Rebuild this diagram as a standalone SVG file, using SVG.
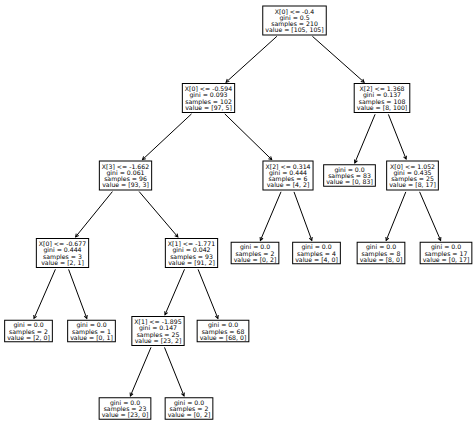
<svg xmlns="http://www.w3.org/2000/svg" width="474" height="430" viewBox="0 0 474 430">
<style>
.box{fill:#fff;stroke:#000;stroke-width:1}
text{font-family:"DejaVu Sans",sans-serif;font-size:6.2px;text-anchor:middle;dominant-baseline:central;fill:#000}
.edge{stroke:#000;stroke-width:1;fill:none;marker-end:url(#arr)}
</style>
<defs>
<marker id="arr" markerUnits="userSpaceOnUse" viewBox="-4 -3 5 6" refX="0" refY="0" markerWidth="5" markerHeight="6" orient="auto">
<path d="M-3,-1.6 L0,0 L-3,1.6" fill="none" stroke="#000" stroke-width="1"/>
</marker>
</defs>
<rect width="474" height="430" fill="#fff"/>
<g id="edges">
<line class="edge" x1="276.9" y1="36.3" x2="226.1" y2="82.2"/>
<line class="edge" x1="312.4" y1="36.3" x2="364.1" y2="82.2"/>
<line class="edge" x1="191.5" y1="113.9" x2="142.5" y2="159.6"/>
<line class="edge" x1="224.8" y1="113.9" x2="271.7" y2="159.6"/>
<line class="edge" x1="375.1" y1="114.3" x2="354.8" y2="162.9"/>
<line class="edge" x1="388.4" y1="114.4" x2="406.1" y2="159.1"/>
<line class="edge" x1="112.4" y1="191.6" x2="75.6" y2="236.9"/>
<line class="edge" x1="139.1" y1="191.5" x2="177.9" y2="237"/>
<line class="edge" x1="281" y1="191.8" x2="260.4" y2="240.4"/>
<line class="edge" x1="294" y1="191.9" x2="311.8" y2="240.4"/>
<line class="edge" x1="405.8" y1="191.9" x2="386.2" y2="240.4"/>
<line class="edge" x1="419.6" y1="191.8" x2="440.6" y2="240.4"/>
<line class="edge" x1="55.4" y1="269.3" x2="34" y2="318.4"/>
<line class="edge" x1="68.6" y1="269.4" x2="86.8" y2="318.4"/>
<line class="edge" x1="184.5" y1="269.3" x2="165" y2="314.7"/>
<line class="edge" x1="198.1" y1="269.4" x2="217.9" y2="318.4"/>
<line class="edge" x1="151" y1="347.3" x2="130.4" y2="395.9"/>
<line class="edge" x1="164.5" y1="347.4" x2="184" y2="395.9"/>
</g>
<g id="n0"><rect class="box" x="262.75" y="6" width="63.5" height="29"/>
<text x="294.5" y="11.2">X[0] &lt;= -0.4</text><text x="294.5" y="17.4">gini = 0.5</text><text x="294.5" y="23.6">samples = 210</text><text x="294.5" y="29.8">value = [105, 105]</text></g>
<g id="n1"><rect class="box" x="182.35" y="83.5" width="52.3" height="29"/>
<text x="208.5" y="88.7">X[0] &lt;= -0.594</text><text x="208.5" y="94.9">gini = 0.093</text><text x="208.5" y="101.1">samples = 102</text><text x="208.5" y="107.3">value = [97, 5]</text></g>
<g id="n2"><rect class="box" x="354.2" y="83.5" width="55.6" height="29"/>
<text x="382" y="88.7">X[2] &lt;= 1.368</text><text x="382" y="94.9">gini = 0.137</text><text x="382" y="101.1">samples = 108</text><text x="382" y="107.3">value = [8, 100]</text></g>
<g id="n3"><rect class="box" x="99.35" y="161" width="52.3" height="29"/>
<text x="125.5" y="166.2">X[3] &lt;= -1.662</text><text x="125.5" y="172.4">gini = 0.061</text><text x="125.5" y="178.6">samples = 96</text><text x="125.5" y="184.8">value = [93, 3]</text></g>
<g id="n4"><rect class="box" x="262.95" y="161" width="50.1" height="29"/>
<text x="288" y="166.2">X[2] &lt;= 0.314</text><text x="288" y="172.4">gini = 0.444</text><text x="288" y="178.6">samples = 6</text><text x="288" y="184.8">value = [4, 2]</text></g>
<g id="n5"><rect class="box" x="323.65" y="164.75" width="51.7" height="21.5"/>
<text x="349.5" y="169.3">gini = 0.0</text><text x="349.5" y="175.5">samples = 83</text><text x="349.5" y="181.7">value = [0, 83]</text></g>
<g id="n6"><rect class="box" x="386.65" y="161" width="51.7" height="29"/>
<text x="412.5" y="166.2">X[0] &lt;= 1.052</text><text x="412.5" y="172.4">gini = 0.435</text><text x="412.5" y="178.6">samples = 25</text><text x="412.5" y="184.8">value = [8, 17]</text></g>
<g id="n7"><rect class="box" x="36.35" y="238.5" width="52.3" height="29"/>
<text x="62.5" y="243.7">X[0] &lt;= -0.677</text><text x="62.5" y="249.9">gini = 0.444</text><text x="62.5" y="256.1">samples = 3</text><text x="62.5" y="262.3">value = [2, 1]</text></g>
<g id="n8"><rect class="box" x="165.35" y="238.5" width="52.3" height="29"/>
<text x="191.5" y="243.7">X[1] &lt;= -1.771</text><text x="191.5" y="249.9">gini = 0.042</text><text x="191.5" y="256.1">samples = 93</text><text x="191.5" y="262.3">value = [91, 2]</text></g>
<g id="n9"><rect class="box" x="231.15" y="242.25" width="47.7" height="21.5"/>
<text x="255" y="246.8">gini = 0.0</text><text x="255" y="253">samples = 2</text><text x="255" y="259.2">value = [0, 2]</text></g>
<g id="n10"><rect class="box" x="292.65" y="242.25" width="47.7" height="21.5"/>
<text x="316.5" y="246.8">gini = 0.0</text><text x="316.5" y="253">samples = 4</text><text x="316.5" y="259.2">value = [4, 0]</text></g>
<g id="n11"><rect class="box" x="357.15" y="242.25" width="47.7" height="21.5"/>
<text x="381" y="246.8">gini = 0.0</text><text x="381" y="253">samples = 8</text><text x="381" y="259.2">value = [8, 0]</text></g>
<g id="n12"><rect class="box" x="420.15" y="242.25" width="51.7" height="21.5"/>
<text x="446" y="246.8">gini = 0.0</text><text x="446" y="253">samples = 17</text><text x="446" y="259.2">value = [0, 17]</text></g>
<g id="n13"><rect class="box" x="4.65" y="320.25" width="47.7" height="21.5"/>
<text x="28.5" y="324.8">gini = 0.0</text><text x="28.5" y="331">samples = 2</text><text x="28.5" y="337.2">value = [2, 0]</text></g>
<g id="n14"><rect class="box" x="67.65" y="320.25" width="47.7" height="21.5"/>
<text x="91.5" y="324.8">gini = 0.0</text><text x="91.5" y="331">samples = 1</text><text x="91.5" y="337.2">value = [0, 1]</text></g>
<g id="n15"><rect class="box" x="131.85" y="316.5" width="52.3" height="29"/>
<text x="158" y="321.7">X[1] &lt;= -1.895</text><text x="158" y="327.9">gini = 0.147</text><text x="158" y="334.1">samples = 25</text><text x="158" y="340.3">value = [23, 2]</text></g>
<g id="n16"><rect class="box" x="197.15" y="320.25" width="51.7" height="21.5"/>
<text x="223" y="324.8">gini = 0.0</text><text x="223" y="331">samples = 68</text><text x="223" y="337.2">value = [68, 0]</text></g>
<g id="n17"><rect class="box" x="99.15" y="397.75" width="51.7" height="21.5"/>
<text x="125" y="402.3">gini = 0.0</text><text x="125" y="408.5">samples = 23</text><text x="125" y="414.7">value = [23, 0]</text></g>
<g id="n18"><rect class="box" x="165.15" y="397.75" width="47.7" height="21.5"/>
<text x="189" y="402.3">gini = 0.0</text><text x="189" y="408.5">samples = 2</text><text x="189" y="414.7">value = [0, 2]</text></g>
</svg>
